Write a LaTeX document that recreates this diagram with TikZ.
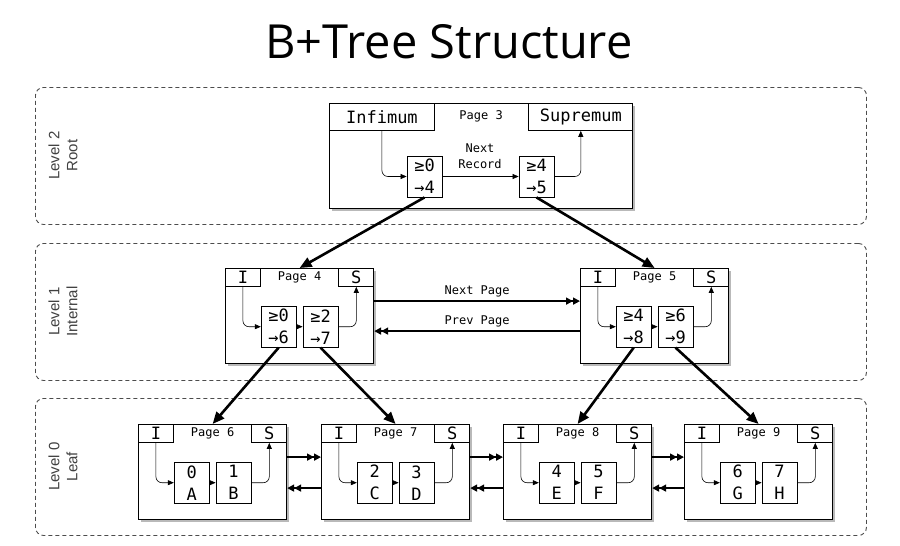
\documentclass[tikz,border=0pt]{standalone}
\usepackage{fontspec}
\setmonofont{DejaVu Sans Mono}
\newfontfamily\lvfont{Liberation Sans}
\newfontfamily\titlefont{Open Sans}
\usetikzlibrary{arrows.meta,calc,shadows}

\begin{document}
\begin{tikzpicture}[x=1pt,y=-1pt,
  levelbox/.style={draw=black!70,line width=0.9pt,dash pattern=on 4pt off 3pt,rounded corners=8pt,
    minimum width=831pt,minimum height=137pt,anchor=north west,inner sep=0},
  lvtext/.style={font=\lvfont\fontsize{15}{18}\selectfont,align=center,rotate=90,text=black!75},
  pagebox/.style={draw,line width=1.2pt,fill=white,minimum width=148pt,minimum height=95pt,
    anchor=north west,inner sep=0,drop shadow={shadow xshift=2.5pt,shadow yshift=-2.5pt,opacity=0.55}},
  hdr/.style={draw,line width=0.8pt,minimum width=35pt,minimum height=18pt,inner sep=0,
    font=\ttfamily\fontsize{17}{20}\selectfont},
  ptitle/.style={font=\ttfamily\fontsize{12}{16}\selectfont,inner sep=1pt,align=center},
  rec/.style={draw,line width=0.8pt,fill=white,minimum width=35pt,minimum height=41pt,inner sep=0,
    align=center,font=\ttfamily\fontsize{17}{22}\selectfont},
  linkarrow/.style={-{Triangle[length=6pt,width=5pt]},line width=0.6pt,rounded corners=6pt},
  treearrow/.style={-{Triangle[length=12pt,width=10pt]},line width=2.6pt},
  sibarrow/.style={-{Triangle[length=7pt,width=7pt]Triangle[length=7pt,width=7pt]},line width=1.6pt}]
  \useasboundingbox (0,0) rectangle (900,546);
  % Title
  \node[font=\titlefont\fontsize{47}{52}\selectfont,anchor=base] (title) at (449,58) {B+Tree Structure};
  % Levels
  \node[levelbox] (lv2) at (35,87) {};
  \node[levelbox] (lv1) at (35,243) {};
  \node[levelbox] (lv0) at (35,398) {};
  \node[lvtext] (lv2t) at (63,155.5) {Level 2\\Root};
  \node[lvtext] (lv1t) at (63,311.5) {Level 1\\Internal};
  \node[lvtext] (lv0t) at (63,466.5) {Level 0\\Leaf};
  % Root page
  \node[pagebox,minimum width=303pt,minimum height=105pt] (p3) at (329,103) {};
  \node[hdr,minimum width=105pt,minimum height=27pt,anchor=north west] (inf) at (p3.north west) {Infimum};
  \node[hdr,minimum width=104pt,minimum height=27pt,anchor=north east] (sup) at (p3.north east) {Supremum};
  \node[ptitle] (p3t) at ($(p3.north)+(0,13.5)$) {Page 3};
  \node[rec] (r0) at (424.5,176.5) {≥0\\→4};
  \node[rec] (r4) at (536.5,176.5) {≥4\\→5};
  \node[ptitle] (nrec) at (480,156) {Next\\Record};
  \draw[linkarrow] (inf.south) |- (r0.west);
  \draw[linkarrow] (r0) -- (r4);
  \draw[linkarrow] (r4.east) -| (sup.south);
  % Internal and leaf pages
  \foreach \n/\px/\py/\ka/\va/\kb/\vb in {4/225/268/≥0/→6/≥2/→7, 5/580/268/≥4/→8/≥6/→9,
      6/138/424/0/A/1/B, 7/321/424/2/C/3/D, 8/503/424/4/E/5/F, 9/684/424/6/G/7/H}{
    \node[pagebox] (p\n) at (\px,\py) {};
    \node[hdr,anchor=north west] (p\n-i) at (p\n.north west) {I};
    \node[hdr,anchor=north east] (p\n-s) at (p\n.north east) {S};
    \node[ptitle] (p\n-t) at ($(p\n.north)+(0,9)$) {Page \n};
    \node[rec,anchor=north west] (p\n-a) at ($(p\n-i.south east)+(0,19)$) {\ka\\\va};
    \node[rec,anchor=north east] (p\n-b) at ($(p\n-s.south west)+(0,19)$) {\kb\\\vb};
    \draw[linkarrow] (p\n-i.south) |- (p\n-a.west);
    \draw[linkarrow] (p\n-a) -- (p\n-b);
    \draw[linkarrow] (p\n-b.east) -| (p\n-s.south);
  }
  % Tree pointers
  \draw[treearrow] (r0.south) -- (p4.north);
  \draw[treearrow] (r4.south) -- (p5.north);
  \draw[treearrow] (p4-a.south) -- (p6.north);
  \draw[treearrow] (p4-b.south) -- (p7.north);
  \draw[treearrow] (p5-a.south) -- (p8.north);
  \draw[treearrow] (p5-b.south) -- (p9.north);
  % Sibling pointers
  \draw[sibarrow] ([yshift=15pt]p4.east) -- node[ptitle,above=2pt] (np) {Next Page} ([yshift=15pt]p5.west);
  \draw[sibarrow] ([yshift=-15pt]p5.west) -- node[ptitle,above=2pt] (pp) {Prev Page} ([yshift=-15pt]p4.east);
  \draw[sibarrow] ([yshift=15pt]p6.east) -- ([yshift=15pt]p7.west);
  \draw[sibarrow] ([yshift=15pt]p7.east) -- ([yshift=15pt]p8.west);
  \draw[sibarrow] ([yshift=15pt]p8.east) -- ([yshift=15pt]p9.west);
  \draw[sibarrow] ([yshift=-16pt]p7.west) -- ([yshift=-16pt]p6.east);
  \draw[sibarrow] ([yshift=-16pt]p8.west) -- ([yshift=-16pt]p7.east);
  \draw[sibarrow] ([yshift=-16pt]p9.west) -- ([yshift=-16pt]p8.east);
\end{tikzpicture}
\end{document}
